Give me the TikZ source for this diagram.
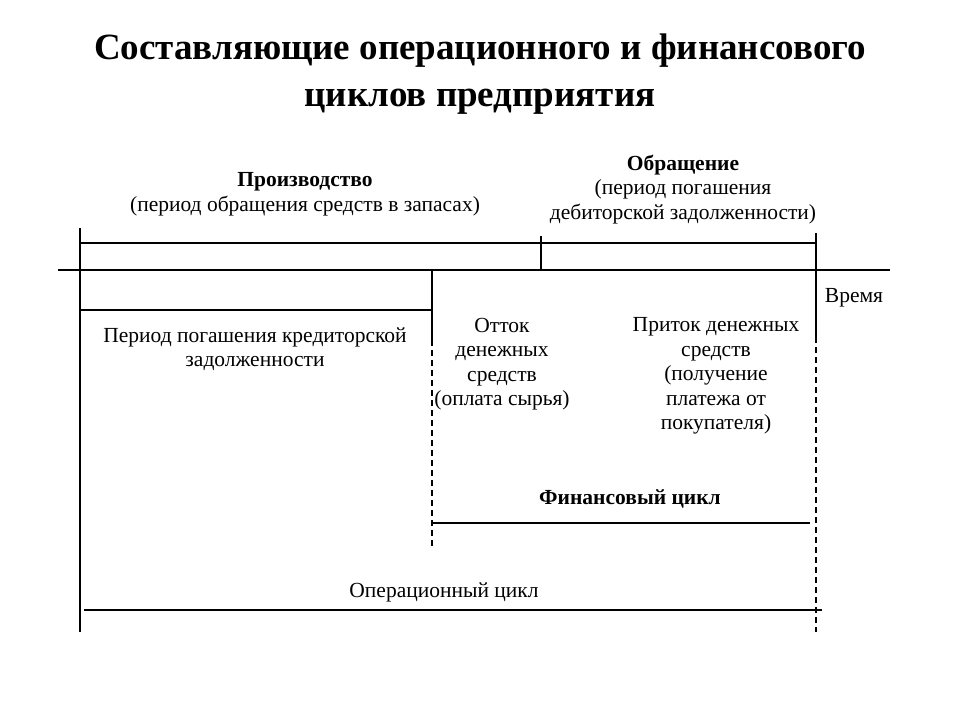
\documentclass[tikz,border=0pt]{standalone}
\usepackage{fontspec}
\setmainfont{Liberation Serif}
\begin{document}
\begin{tikzpicture}[x=1pt,y=-1pt,
  ln/.style={line width=1.4pt},
  dl/.style={line width=1.2pt,dash pattern=on 6pt off 4pt},
  tx/.style={font=\fontsize{21.5}{24.5}\selectfont,align=center,inner sep=0pt},
  bx/.style={font=\bfseries\fontsize{21.5}{24.5}\selectfont,align=center,inner sep=0pt}]
\useasboundingbox (0,0) rectangle (960,720);
\node[font=\bfseries\fontsize{37}{47}\selectfont,align=center] (title) at (480,74) {Составляющие операционного и финансового\\циклов предприятия};
\coordinate (L1) at (80,228); \coordinate (L2) at (80,632);
\draw[ln] (L1) -- (L2);
\coordinate (a1) at (80,243); \coordinate (a2) at (816,243);
\draw[ln] (a1) -- (a2);
\coordinate (t1) at (58,270); \coordinate (t2) at (890,270);
\draw[ln] (t1) -- (t2);
\coordinate (b1) at (80,310); \coordinate (b2) at (432,310);
\draw[ln] (b1) -- (b2);
\coordinate (m1) at (541,236); \coordinate (m2) at (541,270);
\draw[ln] (m1) -- (m2);
\coordinate (v1) at (432,270); \coordinate (v2) at (432,340); \coordinate (v3) at (432,546);
\draw[ln] (v1) -- (v2); \draw[dl] (v2) -- (v3);
\coordinate (r1) at (816,233); \coordinate (r2) at (816,337); \coordinate (r3) at (816,632);
\draw[ln] (r1) -- (r2); \draw[dl] (r2) -- (r3);
\coordinate (f1) at (432,523); \coordinate (f2) at (810,523);
\draw[ln] (f1) -- (f2);
\coordinate (o1) at (84,610); \coordinate (o2) at (822,610);
\draw[ln] (o1) -- (o2);
\node[bx] (pr) at (305,182) {Производство};
\node[tx] (prs) at (305,206) {(период обращения средств в запасах)};
\node[bx] (ob) at (683,165) {Обращение};
\node[tx] (obs) at (683,202) {(период погашения\\дебиторской задолженности)};
\node[tx] (vr) at (854,298) {Время};
\node[tx] (kr) at (255,349) {Период погашения кредиторской\\задолженности};
\node[tx] (ot) at (502,364) {Отток\\денежных\\средств\\(оплата сырья)};
\node[tx] (pt) at (716,376) {Приток денежных\\средств\\(получение\\платежа от\\покупателя)};
\node[bx] (fc) at (630,499) {Финансовый цикл};
\node[tx] (oc) at (444,592) {Операционный цикл};
\end{tikzpicture}
\end{document}
